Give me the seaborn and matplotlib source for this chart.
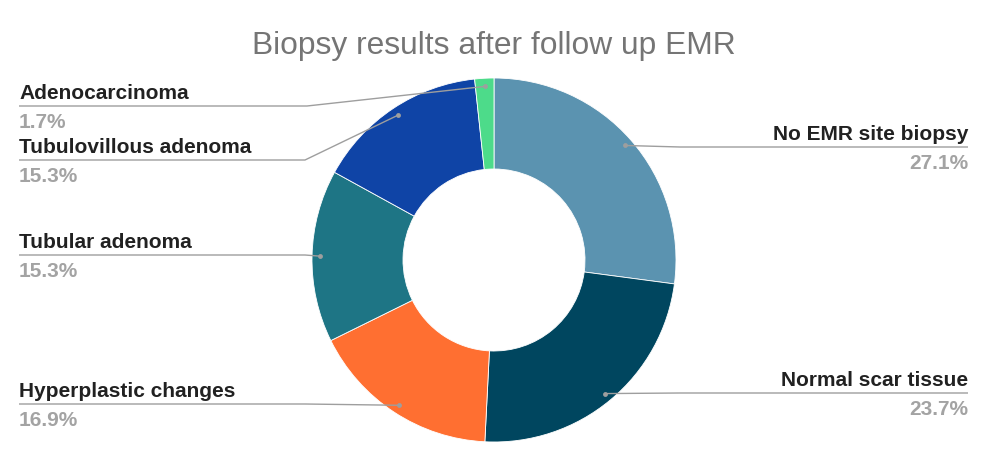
import numpy as np
import matplotlib
matplotlib.use("Agg")
import matplotlib.pyplot as plt
import seaborn as sns

# slices, clockwise from 12 o'clock
categories = ["No EMR site biopsy", "Normal scar tissue", "Hyperplastic changes",
              "Tubular adenoma", "Tubulovillous adenoma", "Adenocarcinoma"]
percents = [27.1, 23.7, 16.9, 15.3, 15.3, 1.7]
colors = ["#5b93b0", "#00465f", "#ff6f31", "#1e7585", "#0f44a6", "#4ddb8a"]

sns.set_style("white")
plt.rcParams["font.family"] = ["Liberation Sans", "DejaVu Sans"]

W, H = 986, 462
fig = plt.figure(figsize=(W / 100, H / 100), dpi=100)
ax = fig.add_axes([0, 0, 1, 1])

cx, cy, R = 494, H - 260, 182
wedges, _ = ax.pie(percents, colors=colors, startangle=90, counterclock=False,
                   center=(cx, cy), radius=R,
                   wedgeprops=dict(width=91, edgecolor="white", linewidth=0.6))
ax.set_xlim(0, W)
ax.set_ylim(0, H)
ax.set_aspect("equal")
ax.axis("off")

ax.text(cx, H - 54, "Biopsy results after follow up EMR", ha="center", va="baseline",
        fontsize=22.9, color="#757575")

# label layout: side, underline y (px from top), elbow x
layout = {
    "No EMR site biopsy": ("right", 147, 680),
    "Normal scar tissue": ("right", 393, 680),
    "Hyperplastic changes": ("left", 404, 305),
    "Tubular adenoma": ("left", 255, 305),
    "Tubulovillous adenoma": ("left", 160, 305),
    "Adenocarcinoma": ("left", 106, 307),
}
line_col = "#9e9e9e"
for w, name, pct in zip(wedges, categories, percents):
    mid = np.deg2rad((w.theta1 + w.theta2) / 2)
    dx, dy = cx + 0.955 * R * np.cos(mid), cy + 0.955 * R * np.sin(mid)
    side, uy, ex = layout[name]
    uy = H - uy
    tx = W - 18 if side == "right" else 19
    ax.plot([dx, ex, tx], [dy, uy, uy], color=line_col, lw=1.0, solid_capstyle="butt", zorder=3)
    ax.plot(dx, dy, "o", ms=3.5, color=line_col, mec="none", zorder=4)
    ha = "right" if side == "right" else "left"
    ax.text(tx, uy + 7, name, ha=ha, va="baseline", fontsize=15, fontweight="bold", color="#212121")
    ax.text(tx, uy - 22, f"{pct:.1f}%", ha=ha, va="baseline", fontsize=15, fontweight="bold", color="#a3a3a3")

fig.savefig("out.png", dpi=100, facecolor="white")
